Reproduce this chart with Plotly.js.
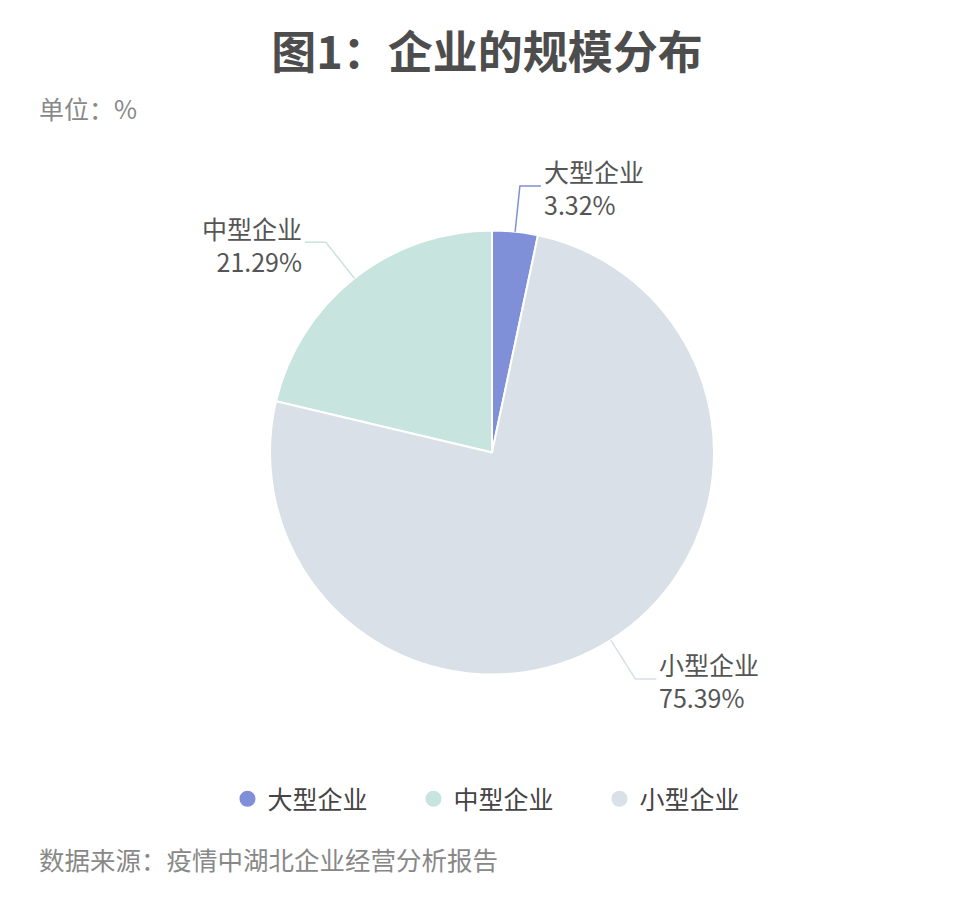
<!DOCTYPE html>
<html>
<head>
<meta charset="utf-8">
<script src="https://cdn.plot.ly/plotly-3.0.1.min.js"></script>
<style>
  html, body { margin: 0; padding: 0; background: #fff; }
  #chart { width: 974px; height: 900px; }
</style>
</head>
<body>
<div id="chart"></div>
<script>
// ===== Data =====
const categories = ['大型企业', '中型企业', '小型企业'];
const shares = [3.32, 21.29, 75.39];   // 单位：%
const colors = ['#7f8fd8', '#c8e4de', '#dae0e8'];

const titleText = '图1：企业的规模分布';
const unitText = '单位：%';
const sourceText = '数据来源：疫情中湖北企业经营分析报告';

// ===== Layout geometry (px) =====
const W = 974, H = 900;
const CX = 492, CY = 452.5, R = 222;   // pie centre & radius
const LINE1 = 46, LINE2 = 21;          // leader line segments
const FONT = '"Noto Sans CJK SC", "Noto Sans", sans-serif';

const px = x => x / W;
const py = y => 1 - y / H;

// slice mid angles (deg, clockwise from 12 o'clock), plotly counterclockwise order
const total = shares.reduce((a, b) => a + b, 0);
const midAngles = [];
let cum = 0;
shares.forEach(v => {
  const first = shares[0] / total * 360;
  midAngles.push(first - (cum + v / 2) / total * 360);
  cum += v;
});

const shapes = [];
const annotations = [];
midAngles.forEach((a, i) => {
  const rad = a * Math.PI / 180;
  const sx = Math.sin(rad), sy = -Math.cos(rad);
  const x0 = CX + R * sx, y0 = CY + R * sy;
  const x1 = CX + (R + LINE1) * sx, y1 = CY + (R + LINE1) * sy;
  const dir = sx >= 0 ? 1 : -1;
  const x2 = x1 + dir * LINE2;
  shapes.push({
    type: 'path', xref: 'paper', yref: 'paper',
    path: `M ${px(x0)},${py(y0)} L ${px(x1)},${py(y1)} L ${px(x2)},${py(y1)}`,
    line: { color: colors[i], width: 1.5 },
  });
  annotations.push({
    xref: 'paper', yref: 'paper', x: px(x2 + dir * 1), y: py(y1 + 2),
    xanchor: dir > 0 ? 'left' : 'right', yanchor: 'middle', showarrow: false,
    align: dir > 0 ? 'left' : 'right',
    text: categories[i] + '<br>' + shares[i].toFixed(2) + '%',
    font: { size: 25, color: '#555', family: FONT },
  });
});

annotations.push({
  xref: 'paper', yref: 'paper', x: px(37), y: py(108),
  xanchor: 'left', yanchor: 'middle', showarrow: false,
  text: unitText, font: { size: 25, color: '#888', family: FONT },
});
annotations.push({
  xref: 'paper', yref: 'paper', x: px(37), y: py(858),
  xanchor: 'left', yanchor: 'middle', showarrow: false,
  text: sourceText, font: { size: 25.5, color: '#888', family: FONT },
});

const pie = {
  type: 'pie',
  labels: categories,
  values: shares,
  sort: false,
  direction: 'counterclockwise',
  rotation: 0,
  textinfo: 'none',
  hoverinfo: 'label+percent',
  showlegend: false,
  marker: { colors: colors, line: { color: '#fff', width: 2 } },
  domain: { x: [px(CX - R), px(CX + R)], y: [py(CY + R), py(CY - R)] },
};

// legend entries with round markers
const legendTraces = categories.map((c, i) => ({
  type: 'scatter', mode: 'markers', x: [null], y: [null],
  name: c, marker: { size: 22, color: colors[i] },
  hoverinfo: 'skip',
}));

const layout = {
  width: W, height: H,
  margin: { l: 0, r: 0, t: 0, b: 0 },
  paper_bgcolor: '#fff',
  plot_bgcolor: '#fff',
  font: { family: FONT, color: '#444' },
  title: {
    text: titleText,
    font: { size: 45, color: '#4d4d4d', family: FONT, weight: 'bold' },
    x: 0.5, xanchor: 'center', y: py(53), yanchor: 'middle', yref: 'paper',
  },
  xaxis: { visible: false },
  yaxis: { visible: false },
  showlegend: true,
  legend: {
    orientation: 'h', x: 0.52, xanchor: 'center', y: py(799), yanchor: 'middle',
    font: { size: 25, color: '#444', family: FONT },
    entrywidth: 141, entrywidthmode: 'pixels',
    itemclick: false, itemdoubleclick: false,
  },
  shapes, annotations,
};

Plotly.newPlot('chart', [pie, ...legendTraces], layout, { displayModeBar: false });
</script>
</body>
</html>
